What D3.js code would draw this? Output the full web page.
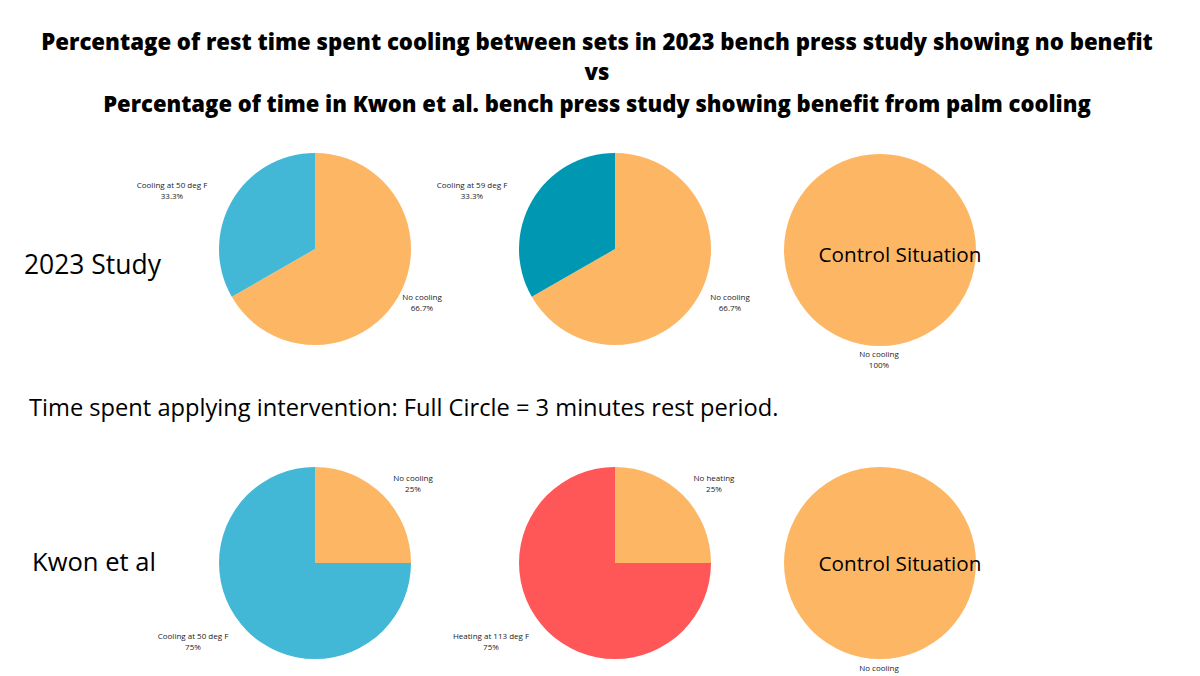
<!DOCTYPE html>
<html><head><meta charset="utf-8">
<script src="https://cdn.jsdelivr.net/npm/d3@7"></script>
<style>body{margin:0;background:#fff}svg{display:block}</style>
</head><body>
<svg id="c" width="1200" height="676"></svg>
<script>
const titleLines = [
  "Percentage of rest time spent cooling between sets in 2023 bench press study showing no benefit",
  "vs",
  "Percentage of time in Kwon et al. bench press study showing benefit from palm cooling"
];
const rowLabels = ["2023 Study", "Kwon et al"];
const noteText = "Time spent applying intervention: Full Circle = 3 minutes rest period.";

// Each pie: slices in clockwise order from 12 o'clock
const pie2023Cool50 = [{label:"No cooling", value:66.7, pct:"66.7%", kind:"none"},
                       {label:"Cooling at 50 deg F", value:33.3, pct:"33.3%", kind:"cool50"}];
const pie2023Cool59 = [{label:"No cooling", value:66.7, pct:"66.7%", kind:"none"},
                       {label:"Cooling at 59 deg F", value:33.3, pct:"33.3%", kind:"cool59"}];
const pie2023Control = [{label:"No cooling", value:100, pct:"100%", kind:"none"}];
const pieKwonCool = [{label:"No cooling", value:25, pct:"25%", kind:"none"},
                     {label:"Cooling at 50 deg F", value:75, pct:"75%", kind:"cool50"}];
const pieKwonHeat = [{label:"No heating", value:25, pct:"25%", kind:"none"},
                     {label:"Heating at 113 deg F", value:75, pct:"75%", kind:"heat"}];
const pieKwonControl = [{label:"No cooling", value:100, pct:"", kind:"none"}];

const colors = {none:"#FDB764", cool50:"#42B7D6", cool59:"#0097B2", heat:"#FF5757"};

const svg = d3.select("#c");
const FONT = "'Open Sans', 'Noto Sans', sans-serif";

function fitText(sel, targetW) {
  const w = sel.node().getComputedTextLength();
  const fs = parseFloat(sel.attr("font-size"));
  sel.attr("font-size", fs * targetW / w);
}

// Title
const tl = [{y:50, w:1112}, {y:80, w:null}, {y:112, w:988}];
titleLines.forEach((t,i)=>{
  const s = svg.append("text").attr("x",597).attr("y",tl[i].y)
    .attr("text-anchor","middle").attr("font-family",FONT).attr("font-weight",800)
    .attr("font-size",22).attr("fill","#000").text(t);
  if (tl[i].w) fitText(s, tl[i].w);
});

// Row labels
const rl = [{x:24,y:274,w:137},{x:32,y:571,w:124}];
rowLabels.forEach((t,i)=>{
  const s = svg.append("text").attr("x",rl[i].x).attr("y",rl[i].y)
    .attr("font-family",FONT).attr("font-size",26).attr("fill","#000").text(t);
  fitText(s, rl[i].w);
});
const nt = svg.append("text").attr("x",29).attr("y",416).attr("font-family",FONT)
  .attr("font-size",22).attr("fill","#000").text(noteText);
fitText(nt, 750);

const R = 96;
const pieGen = d3.pie().sort(null).value(d=>d.value);
const arcGen = d3.arc().innerRadius(0).outerRadius(R);

const layout = [
  {data:pie2023Cool50, cx:315, cy:249, labels:[{x:422,y:300},{x:172,y:188}]},
  {data:pie2023Cool59, cx:615, cy:249, labels:[{x:730,y:300},{x:472,y:188}]},
  {data:pie2023Control, cx:880, cy:250, labels:[{x:879,y:357}], center:{x:900,y:255}},
  {data:pieKwonCool, cx:315, cy:563, labels:[{x:413,y:481},{x:193,y:639}]},
  {data:pieKwonHeat, cx:615, cy:563, labels:[{x:714,y:481},{x:491,y:639}]},
  {data:pieKwonControl, cx:880, cy:563, labels:[{x:879,y:671}], center:{x:900,y:564}}
];

layout.forEach(p=>{
  const g = svg.append("g").attr("transform",`translate(${p.cx},${p.cy})`);
  g.selectAll("path").data(pieGen(p.data)).join("path")
    .attr("d",arcGen).attr("fill",d=>colors[d.data.kind]);
  if (p.center) {
    const ct = svg.append("text").attr("x",p.center.x).attr("y",p.center.y)
      .attr("text-anchor","middle").attr("dy","0.35em")
      .attr("font-family",FONT).attr("font-size",20).attr("fill","#000").text("Control Situation");
    fitText(ct, 163);
  }
  p.data.forEach((d,i)=>{
    const t = svg.append("text").attr("text-anchor","middle")
      .attr("font-family",FONT).attr("font-size",8).attr("fill","#222");
    t.append("tspan").attr("x",p.labels[i].x).attr("y",p.labels[i].y).text(d.label);
    if (d.pct) t.append("tspan").attr("x",p.labels[i].x).attr("y",p.labels[i].y+11).text(d.pct);
  });
});
</script>
</body></html>
